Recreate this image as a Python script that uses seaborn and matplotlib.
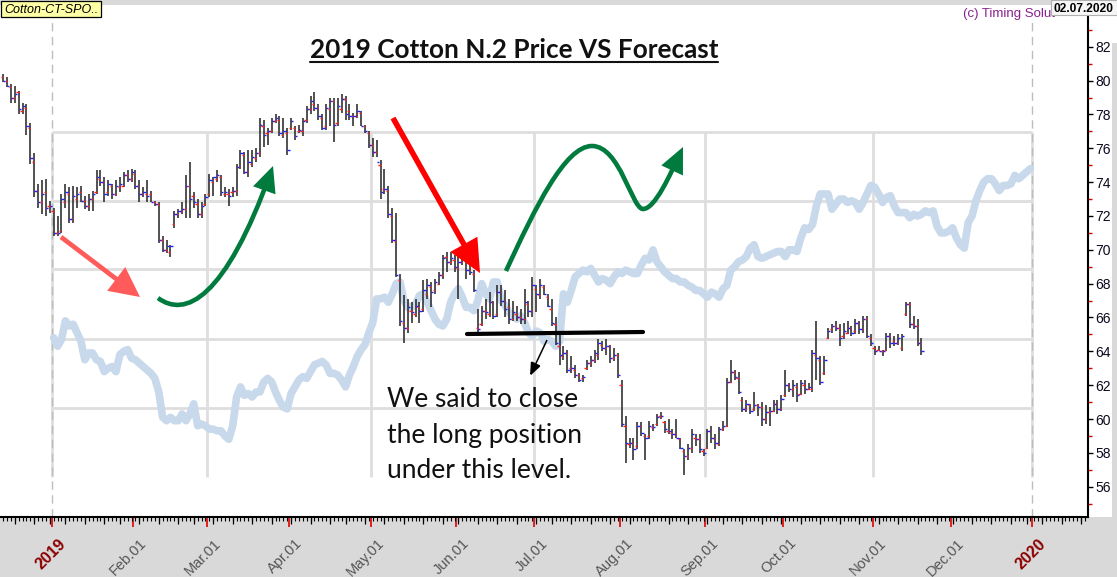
import numpy as np
import pandas as pd
import matplotlib
matplotlib.use("Agg")
import matplotlib.pyplot as plt
import seaborn as sns
from matplotlib.transforms import Affine2D, ScaledTranslation, blended_transform_factory
from matplotlib.patches import FancyArrowPatch, Rectangle
from matplotlib.path import Path
from matplotlib.lines import Line2D

# ---------------- data ----------------
title = "2019 Cotton N.2 Price VS Forecast"
symbol = "Cotton-CT-SPO.."
copyright_txt = "(c) Timing Solut"
date_txt = "02.07.2020"
note_lines = ["We said to close", "the long position", "under this level."]

holidays = ["2018-11-22", "2018-12-05", "2018-12-25", "2019-01-01", "2019-01-21",
            "2019-02-18", "2019-04-19", "2019-05-27", "2019-07-04", "2019-09-02",
            "2019-11-28", "2019-12-25", "2020-01-01", "2020-01-20", "2020-02-17"]
first_bar_date = "2018-12-12"
forecast_start = "2019-01-02"

# daily OHLC bars (Dec-12-2018 .. Nov-19-2019), one row per month
high = [80.4, 80.2, 79.8, 79.7, 79.4, 78.7, 78.6, 77.5, 75.7, 73.9, 74.1, 74.2, 72.9,
        72.5, 72.0, 73.3, 73.9, 73.7, 73.8, 73.7, 73.8, 73.2, 73.3, 73.5, 74.7, 74.7, 74.3, 74.1, 73.9, 74.1, 74.3, 74.6, 74.7, 74.8,
        74.7, 74.1, 73.7, 74.1, 73.5, 72.9, 72.8, 70.8, 70.6, 70.3, 72.3, 72.4, 72.8, 74.4, 75.2, 73.4, 73.0, 72.8, 73.3,
        74.5, 74.3, 74.7, 74.4, 73.7, 73.6, 73.7, 75.1, 75.9, 75.8, 75.9, 75.9, 76.0, 77.8, 77.7, 77.2, 77.8, 78.0, 77.9, 77.8, 77.2,
        77.8, 77.3, 77.4, 77.8, 78.5, 79.1, 79.3, 78.6, 78.0, 78.6, 79.0, 79.0, 79.0, 79.2, 79.1, 78.6, 78.1, 78.6, 78.2, 77.4, 77.0,
        76.6, 76.5, 75.3, 74.8, 73.8, 72.5, 72.2, 68.6, 67.3, 67.1, 66.9, 67.1, 66.9, 68.2, 68.3, 68.1, 68.3, 68.7, 69.7, 69.9, 69.9, 69.7,
        69.7, 70.1, 69.7, 69.1, 68.8, 66.5, 66.7, 67.1, 67.5, 67.0, 67.9, 67.9, 67.6, 67.1, 67.0, 66.7, 66.5, 67.7, 67.0, 68.4,
        67.9, 68.3, 67.9, 67.4, 67.1, 66.0, 65.1, 64.3, 64.1, 63.7, 63.2, 62.7, 62.6, 63.5, 63.7, 64.1, 64.7, 64.6, 64.7, 64.4, 64.2, 63.9,
        62.3, 60.2, 58.9, 58.9, 59.8, 59.8, 59.1, 59.9, 59.7, 60.3, 60.4, 59.9, 60.0, 59.4, 60.0, 58.9, 58.2, 58.5, 59.4, 59.1, 59.1, 58.2,
        59.4, 59.6, 59.1, 59.5, 59.9, 62.4, 63.5, 62.9, 62.8, 61.3, 61.1, 60.9, 61.6, 60.9, 61.0, 60.8, 60.7, 61.1, 61.1, 61.4,
        62.9, 62.1, 62.3, 62.1, 62.3, 62.3, 62.1, 64.1, 65.8, 63.7, 63.7, 65.4, 65.6, 65.8, 65.6, 65.7, 65.8, 65.5, 65.9, 65.8, 66.1, 66.1, 65.0,
        64.3, 64.3, 64.1, 65.1, 65.1, 64.9, 65.0, 65.0, 66.9, 66.9, 66.1, 65.9, 64.8]
low = [79.9, 79.6, 78.7, 78.7, 78.0, 78.0, 76.8, 75.1, 73.1, 72.5, 72.1, 72.0, 72.2,
       70.8, 70.8, 71.0, 72.5, 71.6, 71.6, 72.5, 72.8, 72.4, 72.3, 72.3, 73.3, 73.8, 72.8, 73.2, 73.0, 73.2, 73.4, 73.7, 74.0, 74.0,
       73.6, 72.8, 73.1, 72.8, 72.8, 72.6, 70.4, 69.9, 69.8, 69.6, 71.3, 71.9, 72.1, 71.9, 71.9, 72.5, 71.9, 71.9, 72.6,
       73.1, 73.2, 74.0, 73.2, 73.1, 72.6, 73.1, 73.2, 74.8, 74.5, 74.3, 74.9, 75.2, 75.5, 76.1, 76.2, 76.9, 77.5, 76.7, 76.6, 75.6,
       77.1, 76.5, 76.9, 76.7, 77.5, 78.0, 78.2, 77.7, 77.1, 77.1, 77.3, 76.4, 77.3, 78.1, 77.7, 77.7, 77.3, 77.8, 77.3, 76.9, 76.0,
       75.5, 75.5, 73.0, 73.3, 71.9, 70.4, 68.4, 65.5, 64.5, 65.1, 65.7, 66.0, 65.7, 66.3, 67.1, 66.6, 67.4, 67.9, 68.3, 68.7, 69.1, 68.7,
       67.1, 69.1, 68.3, 68.5, 67.5, 65.1, 65.5, 65.9, 66.0, 65.9, 66.0, 66.7, 66.0, 65.6, 65.8, 65.8, 65.6, 65.6, 66.0, 66.0,
       66.3, 67.1, 67.3, 66.6, 65.5, 64.4, 63.2, 63.5, 62.7, 62.7, 62.4, 62.2, 62.2, 62.9, 63.1, 63.3, 63.5, 64.0, 63.8, 63.3, 63.4, 62.4,
       59.5, 57.4, 58.3, 57.6, 58.2, 59.0, 57.6, 58.8, 59.3, 59.6, 60.0, 59.2, 59.1, 58.8, 58.9, 58.2, 56.7, 57.6, 58.0, 58.4, 58.0, 57.8,
       58.2, 58.6, 58.2, 58.4, 59.3, 59.5, 62.1, 62.3, 61.5, 60.4, 60.4, 60.3, 60.5, 60.2, 59.6, 59.7, 59.6, 60.4, 60.3, 60.5,
       61.3, 61.6, 61.3, 61.0, 61.4, 61.5, 61.7, 61.6, 62.3, 62.0, 62.6, 64.7, 65.1, 65.2, 64.3, 64.7, 65.0, 64.9, 65.0, 65.0, 65.1, 64.8, 64.3,
       63.8, 64.0, 63.7, 64.0, 64.2, 64.3, 64.4, 64.0, 66.1, 65.4, 65.3, 64.3, 63.8]
open_ = [80.2, 80.0, 79.6, 79.0, 79.3, 78.2, 78.4, 77.2, 75.2, 73.5, 72.8, 73.4, 72.6,
         72.3, 71.0, 71.1, 72.8, 73.3, 71.8, 73.0, 73.4, 72.9, 72.6, 73.0, 73.4, 74.2, 74.0, 73.4, 73.8, 73.3, 73.7, 73.8, 74.4, 74.2,
         74.5, 73.8, 73.3, 73.3, 73.3, 72.8, 72.7, 70.6, 70.0, 69.9, 71.5, 72.1, 72.3, 72.4, 73.8, 73.2, 72.7, 72.1, 72.7,
         73.3, 74.0, 74.2, 74.3, 73.3, 73.3, 73.4, 73.5, 74.9, 75.6, 74.6, 75.1, 75.4, 75.7, 77.3, 76.9, 77.0, 77.6, 77.7, 76.8, 76.9,
         77.2, 77.2, 77.0, 77.0, 77.7, 78.3, 78.6, 78.4, 77.8, 77.3, 78.3, 78.8, 77.5, 78.3, 78.9, 78.2, 77.9, 77.9, 78.1, 77.3, 76.9,
         76.2, 75.8, 75.0, 73.6, 73.5, 72.0, 70.5, 68.2, 65.7, 65.4, 66.4, 66.2, 66.6, 66.5, 67.4, 67.8, 67.6, 68.0, 68.5, 69.6, 69.3, 69.4,
         68.9, 69.3, 69.5, 68.8, 68.6, 65.4, 65.6, 66.4, 66.2, 66.9, 66.2, 67.5, 67.0, 66.6, 65.9, 66.2, 66.0, 65.9, 66.8, 66.4,
         67.7, 67.3, 67.8, 67.2, 66.5, 65.6, 64.3, 63.7, 63.9, 63.0, 62.9, 62.6, 62.4, 63.0, 63.3, 63.5, 63.8, 64.4, 64.2, 64.3, 63.6, 63.8,
         62.0, 59.6, 58.5, 58.6, 58.4, 59.6, 59.0, 59.0, 59.5, 59.7, 60.2, 59.8, 59.3, 59.2, 59.1, 58.8, 58.1, 57.8, 58.3, 58.9, 58.8, 58.1,
         58.3, 59.3, 58.9, 58.5, 59.4, 59.6, 62.2, 62.8, 62.4, 61.1, 60.6, 60.8, 60.6, 60.8, 60.7, 60.0, 60.4, 60.5, 60.9, 60.6,
         61.4, 62.0, 61.8, 61.9, 61.5, 62.0, 61.8, 61.8, 63.8, 63.5, 62.7, 64.8, 65.3, 65.5, 65.4, 64.9, 65.1, 65.4, 65.2, 65.7, 65.3, 65.9, 64.8,
         64.2, 64.1, 64.0, 64.1, 64.9, 64.6, 64.5, 64.2, 66.2, 66.8, 65.6, 65.5, 64.5]
close = [80.0, 79.7, 79.0, 79.2, 78.3, 78.5, 77.3, 75.4, 73.5, 72.8, 73.3, 72.5, 72.6,
         71.0, 71.0, 73.0, 73.4, 71.8, 73.2, 73.3, 72.9, 72.6, 73.0, 73.3, 74.3, 74.0, 73.3, 73.9, 73.3, 73.8, 73.9, 74.4, 74.2, 74.6,
         73.8, 73.3, 73.4, 73.2, 72.8, 72.7, 70.6, 70.0, 70.2, 70.2, 72.1, 72.3, 72.4, 73.8, 73.0, 72.8, 72.1, 72.6, 73.1,
         74.1, 74.3, 74.4, 73.4, 73.4, 73.2, 73.5, 74.9, 75.7, 74.6, 75.2, 75.5, 75.7, 77.4, 76.8, 77.0, 77.6, 77.8, 76.9, 77.0, 75.9,
         77.6, 76.7, 77.1, 77.6, 78.3, 78.8, 78.4, 77.9, 77.2, 78.4, 78.8, 77.4, 78.5, 78.9, 78.0, 77.9, 77.9, 78.2, 77.3, 77.0, 76.2,
         75.8, 75.2, 73.4, 73.6, 72.1, 70.6, 68.5, 65.8, 65.4, 66.6, 66.3, 66.7, 66.4, 67.6, 67.9, 67.5, 68.1, 68.5, 69.5, 69.3, 69.5, 69.0,
         69.3, 69.6, 68.8, 68.7, 67.6, 65.3, 66.4, 66.3, 66.9, 66.1, 67.5, 67.0, 66.5, 65.9, 66.3, 66.0, 65.9, 66.9, 66.4, 67.9,
         67.4, 67.9, 67.4, 66.7, 65.7, 64.5, 63.8, 63.9, 62.9, 63.0, 62.6, 62.3, 62.5, 63.3, 63.5, 63.9, 64.5, 64.2, 64.3, 63.6, 63.8, 62.6,
         59.7, 58.6, 58.6, 58.2, 59.6, 59.2, 58.9, 59.6, 59.5, 60.1, 60.2, 59.4, 59.3, 59.1, 58.9, 58.3, 57.8, 58.3, 59.1, 58.8, 58.2, 58.0,
         59.3, 58.9, 58.6, 59.4, 59.6, 62.2, 62.8, 62.5, 61.6, 60.6, 60.9, 60.5, 60.8, 60.7, 60.0, 60.4, 60.5, 60.9, 60.6, 61.2,
         62.0, 61.8, 62.0, 61.4, 62.1, 61.8, 61.9, 63.9, 63.6, 62.2, 63.5, 65.2, 65.5, 65.4, 64.8, 65.2, 65.4, 65.1, 65.7, 65.3, 65.9, 64.9, 64.5,
         64.0, 64.0, 64.0, 64.9, 64.5, 64.5, 64.8, 64.9, 66.8, 65.6, 65.5, 64.5, 64.0]

# forecast line, one value per trading day of 2019
forecast = [64.8, 64.3, 64.7, 65.8, 65.5, 65.6, 65.1, 64.6, 63.5, 63.9,
            63.9, 63.5, 63.4, 62.8, 63.0, 63.1, 62.8, 63.8, 64.0, 64.1,
            63.6, 63.5, 63.3, 63.1, 62.9, 62.7, 62.4, 61.6, 60.1, 59.9,
            60.1, 59.9, 59.9, 60.3, 59.9, 60.3, 60.9, 59.6, 59.7, 59.6,
            59.4, 59.4, 59.3, 59.3, 59.0, 58.8, 59.6, 61.3, 61.9, 61.4,
            61.5, 61.3, 61.6, 61.6, 62.2, 62.4, 62.2, 61.6, 61.1, 60.7,
            60.6, 61.5, 61.9, 62.3, 62.5, 62.4, 62.8, 63.2, 63.3, 63.4,
            63.2, 62.7, 62.7, 62.6, 62.3, 61.9, 62.6, 63.1, 63.7, 64.1,
            64.4, 65.1, 65.7, 67.1, 67.1, 67.2, 66.9, 67.4, 68.0, 68.1,
            67.0, 66.6, 66.6, 66.8, 67.3, 67.4, 66.9, 66.4, 65.9, 65.6,
            65.5, 65.9, 66.9, 67.4, 67.7, 67.2, 66.6, 66.6, 66.4, 67.0,
            68.0, 67.4, 67.1, 68.1, 68.1, 67.0, 66.7, 66.3, 66.1, 65.9,
            66.1, 65.7, 65.1, 64.9, 65.2, 65.1, 64.6, 64.7, 64.6, 64.3,
            64.6, 67.4, 66.9, 67.6, 68.4, 68.6, 68.8, 68.7, 68.9, 68.5,
            68.1, 68.3, 68.2, 68.0, 68.4, 68.7, 68.6, 68.8, 68.7, 68.6,
            68.6, 69.1, 69.5, 69.4, 70.0, 69.3, 69.0, 68.7, 68.5, 68.3,
            68.3, 68.1, 68.1, 67.9, 67.8, 67.6, 67.6, 67.4, 67.2, 67.5,
            67.4, 67.2, 67.7, 67.9, 68.8, 69.0, 69.3, 69.4, 69.6, 70.1,
            70.3, 69.6, 69.5, 69.6, 69.7, 69.8, 69.9, 69.9, 69.6, 70.0,
            70.0, 69.9, 70.7, 71.3, 71.2, 71.5, 72.6, 73.3, 73.3, 73.3,
            72.4, 72.7, 73.0, 73.0, 72.8, 72.9, 72.8, 72.4, 72.8, 73.3,
            73.8, 73.7, 73.3, 72.8, 73.1, 73.2, 72.6, 72.2, 72.2, 72.2,
            71.9, 72.1, 72.0, 72.1, 72.3, 72.2, 72.3, 71.4, 71.0, 71.0,
            71.1, 71.3, 70.7, 70.3, 70.1, 71.6, 72.0, 72.9, 73.5, 74.0,
            74.2, 74.2, 73.9, 73.5, 73.8, 73.8, 73.9, 74.4, 74.2, 74.4,
            74.6, 74.8]

price_ticks = list(range(56, 84, 2))
price_minor = list(range(55, 85, 2))
fc_grid_levels = [60.67, 64.71, 68.85, 72.90, 76.98]
fc_grid_bottom = 56.6
fc_grid_months = [1, 3, 5, 7, 9, 11]

# ---------------- figure ----------------
W, H = 1117, 577
sns.set_theme(style="white")
plt.rcParams["font.family"] = ["Liberation Sans", "DejaVu Sans"]

fig = plt.figure(figsize=(W / 100, H / 100), dpi=100)
fig.patch.set_facecolor("#d9d9d9")
pix = Affine2D().scale(1 / W, -1 / H).translate(0, 1) + fig.transFigure

AX_L, AX_R, AX_T, AX_B = 0, 1088, 5, 517.3
ax = fig.add_axes([AX_L / W, (H - AX_B) / H, (AX_R - AX_L) / W, (AX_B - AX_T) / H])
ax.set_facecolor("white")

# trading-day axis
tdays = pd.bdate_range("2018-11-01", "2020-03-31", freq="C", holidays=holidays)
origin = tdays.get_loc(pd.Timestamp(forecast_start))
tpos = pd.Series(np.arange(len(tdays)) - origin, index=tdays)

XMIN, XMAX = -13.8, 265.8
YMIN, YMAX = 54.19, 84.47

n = min(len(high), len(low), len(open_), len(close))
bar_days = tdays[tdays >= pd.Timestamp(first_bar_date)][:n]
bx = tpos[bar_days].to_numpy(float)
hi = np.array(high[:n]); lo = np.array(low[:n])
op = np.array(open_[:n]); cl = np.array(close[:n])

fc_days = tdays[tdays >= pd.Timestamp(forecast_start)][:len(forecast)]
fx = tpos[fc_days].to_numpy(float)

months = pd.date_range("2018-12-01", "2020-02-01", freq="MS")
mpos = {m: float(tpos[tdays[tdays >= m][0]]) - 0.5 for m in months}
year0 = mpos[pd.Timestamp("2019-01-01")]
year1 = mpos[pd.Timestamp("2020-01-01")]
vgrid = [p for m, p in mpos.items() if m.year == 2019 and m.month in fc_grid_months] + [year1]

# forecast panel grid
ax.hlines(fc_grid_levels, year0, year1, colors="#dedede", lw=2.0, zorder=0.5)
ax.vlines(vgrid, fc_grid_bottom, fc_grid_levels[-1], colors="#dedede", lw=2.0, zorder=0.5)
ax.vlines([year0, year1], YMIN, 83.6, colors="#bdbdbd", lw=1.0,
          linestyles=(0, (6, 4)), zorder=0.6)

# forecast line
fc_df = pd.DataFrame({"pos": fx, "value": forecast[:len(fx)]})
sns.lineplot(data=fc_df, x="pos", y="value", ax=ax, color="#c9d9ec", lw=5.5,
             zorder=1, legend=False)

# OHLC bars
ax.vlines(bx, lo, hi, colors="#2a2a2a", lw=1.15, zorder=3)
ax.hlines(op, bx - 0.6, bx, colors="#ff2020", lw=1.0, zorder=4)
ax.hlines(cl, bx, bx + 0.6, colors="#2020ff", lw=1.0, zorder=4)

ax.set_xlim(XMIN, XMAX)
ax.set_ylim(YMIN, YMAX)
ax.set_xlabel("")
ax.set_ylabel("")
ax.grid(False)

for s in ["left", "top"]:
    ax.spines[s].set_visible(False)
for s in ["right", "bottom"]:
    ax.spines[s].set_visible(True)
    ax.spines[s].set_color("black")
    ax.spines[s].set_linewidth(1.5)

# x ticks
vis_months = {m: p for m, p in mpos.items() if XMIN < p < XMAX}
ax.set_xticks(list(vis_months.values()))
ax.set_xticklabels([])
ax.set_xticks([p for p in tpos.values if XMIN < p < XMAX], minor=True)
ax.tick_params(axis="x", which="major", direction="out", length=7.2, width=1.2,
               color="#e00000", bottom=True, labelbottom=False)
ax.tick_params(axis="x", which="minor", direction="out", length=2.6, width=0.8,
               color="black", bottom=True)

week_starts = [tpos[d] for i, d in enumerate(tdays)
               if i > 0 and d.weekday() < tdays[i - 1].weekday()]
sec = ax.secondary_xaxis("bottom")
sec.set_xticks([p for p in week_starts if XMIN < p < XMAX])
sec.tick_params(axis="x", which="major", direction="out", length=5.0, width=0.9,
                color="black", bottom=True, labelbottom=False)
sec.tick_params(axis="x", which="minor", bottom=False)
sec.spines["bottom"].set_visible(False)

lbl_trans = blended_transform_factory(ax.transData, pix) + \
    ScaledTranslation(6 / 100, 0, fig.dpi_scale_trans)
for m, p in vis_months.items():
    if m.month == 1:
        txt, col, fw, fs = str(m.year), "#8b0000", "bold", 11.5
    else:
        txt, col, fw, fs = m.strftime("%b") + ".01", "#555555", "normal", 10.5
    ax.text(p, 536, txt, transform=lbl_trans, rotation=45, rotation_mode="anchor",
            ha="right", va="top", color=col, fontweight=fw, fontsize=fs, clip_on=False)

# y ticks on the right
ax.yaxis.tick_right()
ax.set_yticks(price_ticks)
ax.set_yticklabels([str(v) for v in price_ticks])
ax.set_yticks(price_minor, minor=True)
ax.tick_params(axis="y", which="major", right=True, left=False, direction="out",
               length=3.6, width=1.0, color="black", labelsize=10, pad=1.5,
               labelcolor="#0a0a1e")
ax.tick_params(axis="y", which="minor", right=True, left=False, direction="out",
               length=3.0, width=1.0, color="#e00000")

# ---------------- decorations (figure pixel coordinates) ----------------
fig.add_artist(Rectangle((1088, 5), 29, 512.3, transform=pix, fc="white", ec="none", zorder=-1))
fig.add_artist(Rectangle((1112, 43), 5, 474.3, transform=pix, fc="#d9d9d9", ec="none", zorder=-0.9))

fig.add_artist(Rectangle((0.5, 0.5), 100.5, 16.5, transform=pix, fc="#ffffa6",
                         ec="black", lw=0.9, zorder=6))
fig.text(4, 13, symbol, transform=pix, fontsize=9, fontstyle="italic",
         va="baseline", ha="left", color="black", zorder=7)

fig.text(963, 17.5, copyright_txt, transform=pix, fontsize=9.5, color="#8a1f8f",
         va="baseline", ha="left", zorder=5)
fig.add_artist(Rectangle((1051, 0), 66, 15, transform=pix, fc="#f6f6f6",
                         ec="#b0b0b0", lw=0.8, zorder=6))
fig.text(1114, 12, date_txt, transform=pix, fontsize=8.6, fontweight="bold",
         color="black", va="baseline", ha="right", zorder=7)

t_title = fig.text(514, 57.5, title, transform=pix, ha="center", va="baseline",
                   fontfamily=["Lato", "DejaVu Sans"], fontweight="bold",
                   fontsize=18.8, color="#111111", zorder=7)

for i, line in enumerate(note_lines):
    fig.text(387, 407 + i * 35.5, line, transform=pix, ha="left", va="baseline",
             fontfamily=["Lato", "DejaVu Sans"], fontsize=19, color="#111111", zorder=7)


def add_arrow(p0, p1, color, lw, hl, hw):
    a = FancyArrowPatch(p0, p1, transform=pix,
                        arrowstyle=f"-|>,head_length={hl},head_width={hw}",
                        mutation_scale=10, color=color, lw=lw,
                        shrinkA=0, shrinkB=0, joinstyle="miter", capstyle="butt", zorder=8)
    fig.add_artist(a)


def add_curve_arrow(verts, color, lw, hl, hw):
    codes = [Path.MOVETO] + [Path.CURVE4] * (len(verts) - 1)
    a = FancyArrowPatch(path=Path(verts, codes), transform=pix,
                        arrowstyle=f"-|>,head_length={hl},head_width={hw}",
                        mutation_scale=10, color=color, lw=lw,
                        joinstyle="miter", capstyle="butt", zorder=8)
    fig.add_artist(a)


add_arrow((61, 237), (140, 297), "#ff5b5b", 3.4, 1.6, 0.8)
add_arrow((393, 118), (480, 273), "#ff0000", 4.0, 1.7, 0.8)
add_arrow((547, 340), (530, 376), "black", 1.1, 0.8, 0.32)
add_curve_arrow([(158, 298), (185, 318), (225, 300), (273, 166)], "#007a3d", 3.3, 1.3, 0.6)
add_curve_arrow([(506, 271), (535, 208), (565, 146), (592, 146),
                 (620, 146), (632, 209), (643, 209),
                 (655, 209), (670, 175), (683, 147)], "#007a3d", 3.3, 1.3, 0.6)
fig.add_artist(Line2D([467, 643], [334, 332], transform=pix, color="black", lw=3.0,
                      solid_capstyle="round", zorder=8))

# underline of the title
fig.canvas.draw()
bb = t_title.get_window_extent()
fig.add_artist(Line2D([bb.x0, bb.x1], [H - 62, H - 62], transform=None,
                      color="#111111", lw=1.5, zorder=7))

fig.savefig("out.png", dpi=100)
